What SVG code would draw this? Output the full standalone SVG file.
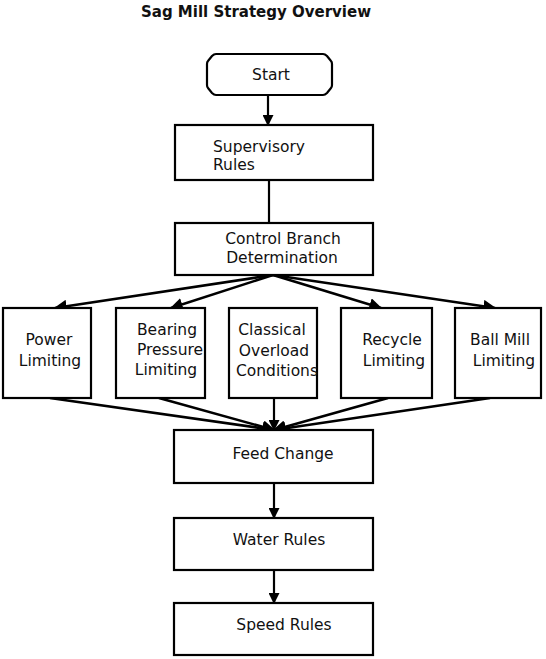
<svg xmlns="http://www.w3.org/2000/svg" width="546" height="659" viewBox="0 0 546 659">
<style>
.box{fill:#fff;stroke:#000;stroke-width:2.2}
.t{font-family:"DejaVu Sans","Liberation Sans",sans-serif;font-size:15.5px;fill:#111}
.c{text-anchor:middle}
.title{font-family:"DejaVu Sans","Liberation Sans",sans-serif;font-size:15px;font-weight:bold;fill:#111;text-anchor:middle}
.ln{stroke:#000;stroke-width:2.2;fill:none}
.fan{stroke:#000;stroke-width:2.6;fill:none}
</style>
<defs>
<marker id="ah" viewBox="0 0 10 10" refX="9" refY="5" markerWidth="5" markerHeight="5" orient="auto" markerUnits="strokeWidth">
<path d="M0,0 L10,5 L0,10 z" fill="#000"/>
</marker>
</defs>
<text class="title" x="256" y="17">Sag Mill Strategy Overview</text>
<g id="connectors">
<line class="ln" x1="268" y1="95" x2="268" y2="125" marker-end="url(#ah)"/>
<line class="ln" x1="269" y1="180" x2="269" y2="223"/>
<line class="fan" x1="273" y1="275" x2="55" y2="308" marker-end="url(#ah)"/>
<line class="fan" x1="273" y1="275" x2="171" y2="308" marker-end="url(#ah)"/>
<line class="fan" x1="273" y1="275" x2="381" y2="308" marker-end="url(#ah)"/>
<line class="fan" x1="273" y1="275" x2="495" y2="308" marker-end="url(#ah)"/>
<line class="fan" x1="50" y1="398" x2="274" y2="430" marker-end="url(#ah)"/>
<line class="fan" x1="159" y1="398" x2="274" y2="430" marker-end="url(#ah)"/>
<line class="ln" x1="274" y1="398" x2="274" y2="430" marker-end="url(#ah)"/>
<line class="fan" x1="388" y1="398" x2="274" y2="430" marker-end="url(#ah)"/>
<line class="fan" x1="490" y1="398" x2="274" y2="430" marker-end="url(#ah)"/>
<line class="ln" x1="274" y1="483" x2="274" y2="518" marker-end="url(#ah)"/>
<line class="ln" x1="274" y1="570" x2="274" y2="603" marker-end="url(#ah)"/>
</g>
<g id="start">
<path class="box" d="M216,54 H323 Q325,54 327,56 L331,61 Q332,62 332,64 V85 Q332,87 331,88 L327,93 Q325,95 323,95 H216 Q214,95 212,93 L208,88 Q207,87 207,85 V64 Q207,62 208,61 L212,56 Q214,54 216,54 Z"/>
<text class="t c" x="271" y="80">Start</text>
</g>
<g id="supervisory">
<rect class="box" x="175" y="125" width="198" height="55"/>
<text class="t" x="213" y="152">Supervisory</text>
<text class="t" x="213" y="170">Rules</text>
</g>
<g id="control">
<rect class="box" x="175" y="223" width="198" height="52"/>
<text class="t c" x="283" y="244">Control Branch</text>
<text class="t c" x="282" y="263">Determination</text>
</g>
<g id="power">
<rect class="box" x="3" y="308" width="88" height="90"/>
<text class="t c" x="49" y="345">Power</text>
<text class="t c" x="50" y="366">Limiting</text>
</g>
<g id="bearing">
<rect class="box" x="116" y="308" width="89" height="90"/>
<text class="t c" x="167" y="335">Bearing</text>
<text class="t c" x="170" y="355">Pressure</text>
<text class="t c" x="166" y="375">Limiting</text>
</g>
<g id="classical">
<rect class="box" x="229" y="308" width="88" height="90"/>
<text class="t c" x="272" y="335">Classical</text>
<text class="t c" x="274" y="356">Overload</text>
<text class="t c" x="277" y="376">Conditions</text>
</g>
<g id="recycle">
<rect class="box" x="341" y="308" width="91" height="90"/>
<text class="t c" x="392" y="345">Recycle</text>
<text class="t c" x="394" y="366">Limiting</text>
</g>
<g id="ballmill">
<rect class="box" x="455" y="308" width="86" height="90"/>
<text class="t c" x="500" y="345">Ball Mill</text>
<text class="t c" x="504" y="366">Limiting</text>
</g>
<g id="feed">
<rect class="box" x="174" y="430" width="199" height="53"/>
<text class="t c" x="283" y="459">Feed Change</text>
</g>
<g id="water">
<rect class="box" x="174" y="518" width="199" height="52"/>
<text class="t c" x="279" y="545">Water Rules</text>
</g>
<g id="speed">
<rect class="box" x="174" y="603" width="199" height="52"/>
<text class="t c" x="284" y="630">Speed Rules</text>
</g>
</svg>
